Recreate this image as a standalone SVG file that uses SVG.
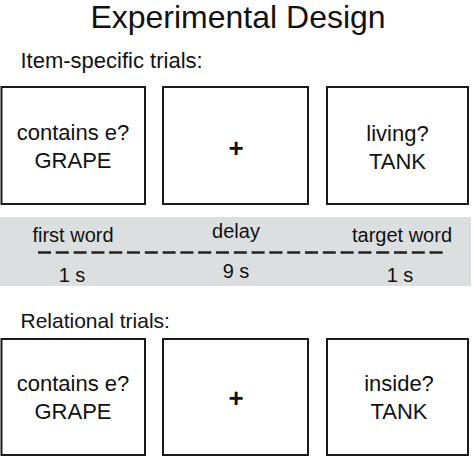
<svg xmlns="http://www.w3.org/2000/svg" width="474" height="456" viewBox="0 0 474 456">
<style>
text{font-family:"Liberation Sans",Arial,sans-serif;fill:#111;}
.box{fill:#fff;stroke:#1a1a1a;stroke-width:2;}
.bt{font-size:22px;text-anchor:middle;}
.plus{font-size:26px;text-anchor:middle;font-weight:bold;}
.tl{font-size:20px;text-anchor:middle;}
</style>
<rect width="474" height="456" fill="#fff"/>
<text x="238" y="28" font-size="32" text-anchor="middle">Experimental Design</text>
<text x="20.5" y="68" font-size="22">Item-specific trials:</text>
<g id="top1"><rect class="box" x="1.5" y="87" width="143.5" height="117"/><text class="bt" x="73" y="140">contains e?</text><text class="bt" x="73" y="168">GRAPE</text></g>
<g id="top2"><rect class="box" x="163" y="87" width="145" height="117"/><text class="plus" x="236" y="157">+</text></g>
<g id="top3"><rect class="box" x="327" y="87" width="141" height="117"/><text class="bt" x="397.5" y="141">living?</text><text class="bt" x="397.5" y="169">TANK</text></g>
<g id="timeline">
<rect x="0" y="217" width="471" height="69" fill="#dcdfe0"/>
<text class="tl" x="73" y="242">first word</text>
<text class="tl" x="236" y="238">delay</text>
<text class="tl" x="402" y="242">target word</text>
<g id="connectors"><line x1="38" y1="252.5" x2="443" y2="252.5" stroke="#222" stroke-width="2.5" stroke-dasharray="13 4.8"/></g>
<text class="tl" x="72" y="281.5">1 s</text>
<text class="tl" x="236" y="277.5">9 s</text>
<text class="tl" x="400" y="281.5">1 s</text>
</g>
<text x="20.5" y="328" font-size="21">Relational trials:</text>
<g id="bot1"><rect class="box" x="1.5" y="339" width="143.5" height="116"/><text class="bt" x="73" y="391">contains e?</text><text class="bt" x="73" y="419">GRAPE</text></g>
<g id="bot2"><rect class="box" x="163" y="339" width="145" height="116"/><text class="plus" x="236" y="407">+</text></g>
<g id="bot3"><rect class="box" x="327" y="339" width="141" height="116"/><text class="bt" x="399" y="391">inside?</text><text class="bt" x="399" y="419">TANK</text></g>
</svg>
